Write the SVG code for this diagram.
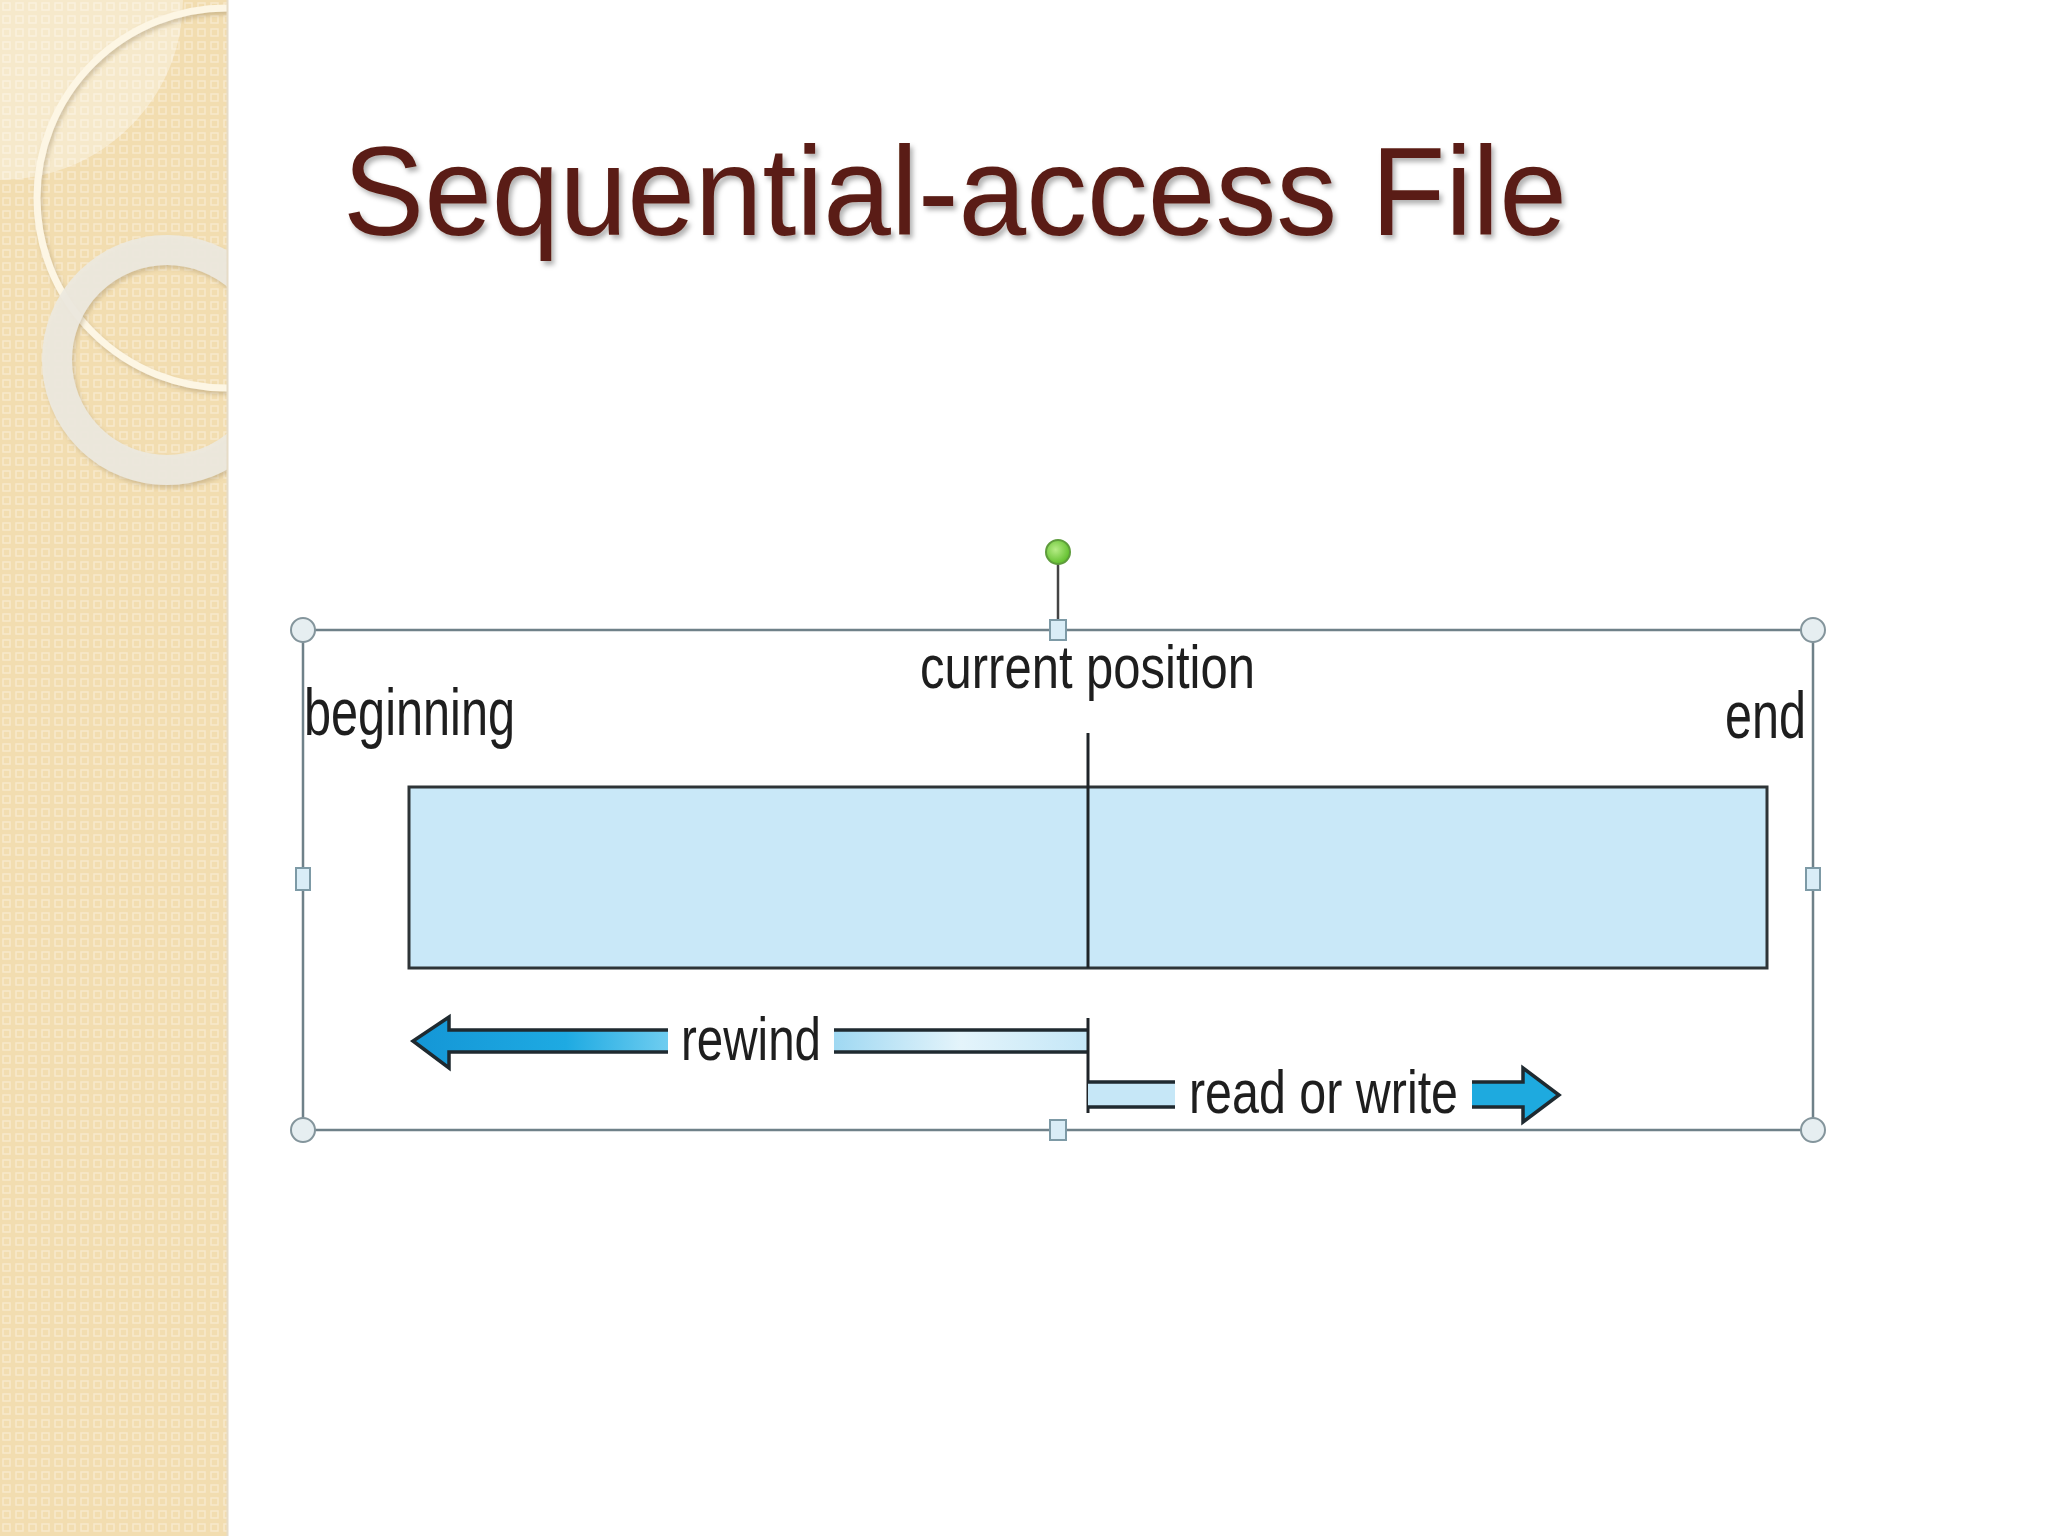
<svg xmlns="http://www.w3.org/2000/svg" width="2048" height="1536" viewBox="0 0 2048 1536">
<style>
.lbl{font-family:"Liberation Sans","DejaVu Sans",sans-serif;fill:#1e1e1e}
.handle{fill:#e6eef1;stroke:#84959c;stroke-width:2}
.sq{fill:#d9edf7;stroke:#7d9aa6;stroke-width:2}
.dk{stroke:#1f2a30;stroke-width:3.5;fill:none}
</style>
<defs>
<pattern id="dots" width="13" height="13" patternUnits="userSpaceOnUse">
<rect width="13" height="13" fill="#f2ddb0"/>
<rect x="3" y="3" width="7" height="7" fill="none" stroke="#f8e9cc" stroke-width="1.5"/>
</pattern>
<clipPath id="strip"><rect x="0" y="0" width="227" height="1536"/></clipPath>
<filter id="tshadow" x="-5%" y="-20%" width="110%" height="150%">
<feDropShadow dx="3" dy="4" stdDeviation="2.5" flood-color="#000" flood-opacity="0.3"/>
</filter>
<filter id="soft" x="-10%" y="-10%" width="120%" height="120%">
<feDropShadow dx="2" dy="3" stdDeviation="2" flood-color="#8a7650" flood-opacity="0.35"/>
</filter>
<linearGradient id="darkL" x1="0" y1="0" x2="1" y2="0">
<stop offset="0" stop-color="#1496d6"/>
<stop offset="0.6" stop-color="#1eaae2"/>
<stop offset="1" stop-color="#6fcdf0"/>
</linearGradient>
<linearGradient id="lightL" x1="0" y1="0" x2="1" y2="0">
<stop offset="0" stop-color="#9fd8f2"/>
<stop offset="0.5" stop-color="#e4f4fb"/>
<stop offset="1" stop-color="#c4e7f7"/>
</linearGradient>
<radialGradient id="green" cx="0.4" cy="0.4" r="0.6">
<stop offset="0" stop-color="#b6ec86"/>
<stop offset="1" stop-color="#62c02e"/>
</radialGradient>
</defs>

<rect width="2048" height="1536" fill="#ffffff"/>

<g id="side-strip">
<rect x="0" y="0" width="227" height="1536" fill="url(#dots)"/>
<g clip-path="url(#strip)">
<ellipse cx="0" cy="0" rx="183" ry="180" fill="#ffffff" fill-opacity="0.35"/>
<circle cx="227" cy="198" r="190" fill="none" stroke="#fdf6e4" stroke-width="7" filter="url(#soft)"/>
<circle cx="167" cy="360" r="110" fill="none" stroke="#ede9e0" stroke-width="30" stroke-opacity="0.92" filter="url(#soft)"/>
</g>
<line x1="227.5" y1="0" x2="227.5" y2="1536" stroke="#e6dcc8" stroke-width="2"/>
</g>

<g id="title">
<text x="343" y="235" font-family="Liberation Sans, Arial, sans-serif" font-size="126" fill="#5a1f14" textLength="1224" lengthAdjust="spacingAndGlyphs" filter="url(#tshadow)">Sequential-access File</text>
</g>

<g id="selection-frame">
<rect x="303" y="630" width="1510" height="500" fill="none" stroke="#6f8189" stroke-width="2.5"/>
<line x1="1058" y1="564" x2="1058" y2="620" stroke="#444" stroke-width="2.5"/>
<circle cx="1058" cy="552" r="12" fill="url(#green)" stroke="#5e9c3c" stroke-width="2"/>
<circle class="handle" cx="303" cy="630" r="12"/>
<circle class="handle" cx="1813" cy="630" r="12"/>
<circle class="handle" cx="303" cy="1130" r="12"/>
<circle class="handle" cx="1813" cy="1130" r="12"/>
<rect class="sq" x="1050" y="620" width="16" height="20"/>
<rect class="sq" x="1050" y="1120" width="16" height="20"/>
<rect class="sq" x="296" y="868" width="14" height="22"/>
<rect class="sq" x="1806" y="868" width="14" height="22"/>
</g>

<g id="file-bar">
<rect x="409" y="787" width="1358" height="181" fill="#c9e8f8" stroke="#2e3437" stroke-width="3"/>
</g>

<g id="labels">
<text class="lbl" x="304" y="735" font-size="66" textLength="211" lengthAdjust="spacingAndGlyphs">beginning</text>
<text class="lbl" x="1725" y="738" font-size="66" textLength="81" lengthAdjust="spacingAndGlyphs">end</text>
<text class="lbl" x="920" y="688" font-size="62" textLength="335" lengthAdjust="spacingAndGlyphs">current position</text>
<text class="lbl" x="681" y="1060" font-size="62" textLength="140" lengthAdjust="spacingAndGlyphs">rewind</text>
<text class="lbl" x="1189" y="1113" font-size="62" textLength="269" lengthAdjust="spacingAndGlyphs">read or write</text>
</g>

<g id="connectors">
<line x1="1088" y1="733" x2="1088" y2="968" stroke="#1f2428" stroke-width="3"/>
<polygon points="413,1041 449,1017 449,1030 668,1030 668,1052 449,1052 449,1068" fill="url(#darkL)"/>
<path class="dk" d="M668,1030 H449 V1017 L413,1041 L449,1068 V1052 H668"/>
<rect x="834" y="1030" width="254" height="22" fill="url(#lightL)"/>
<path class="dk" d="M834,1030 H1088 M834,1052 H1088"/>
<line x1="1088" y1="1018" x2="1088" y2="1113" stroke="#1f2428" stroke-width="3"/>
<rect x="1088" y="1082" width="87" height="25" fill="#c6e7f7"/>
<path class="dk" d="M1088,1082 H1175 M1088,1107 H1175"/>
<polygon points="1472,1082 1523,1082 1523,1068 1559,1095 1523,1122 1523,1107 1472,1107" fill="#1eaadf"/>
<path class="dk" d="M1472,1082 H1523 V1068 L1559,1095 L1523,1122 V1107 H1472"/>
</g>
</svg>
